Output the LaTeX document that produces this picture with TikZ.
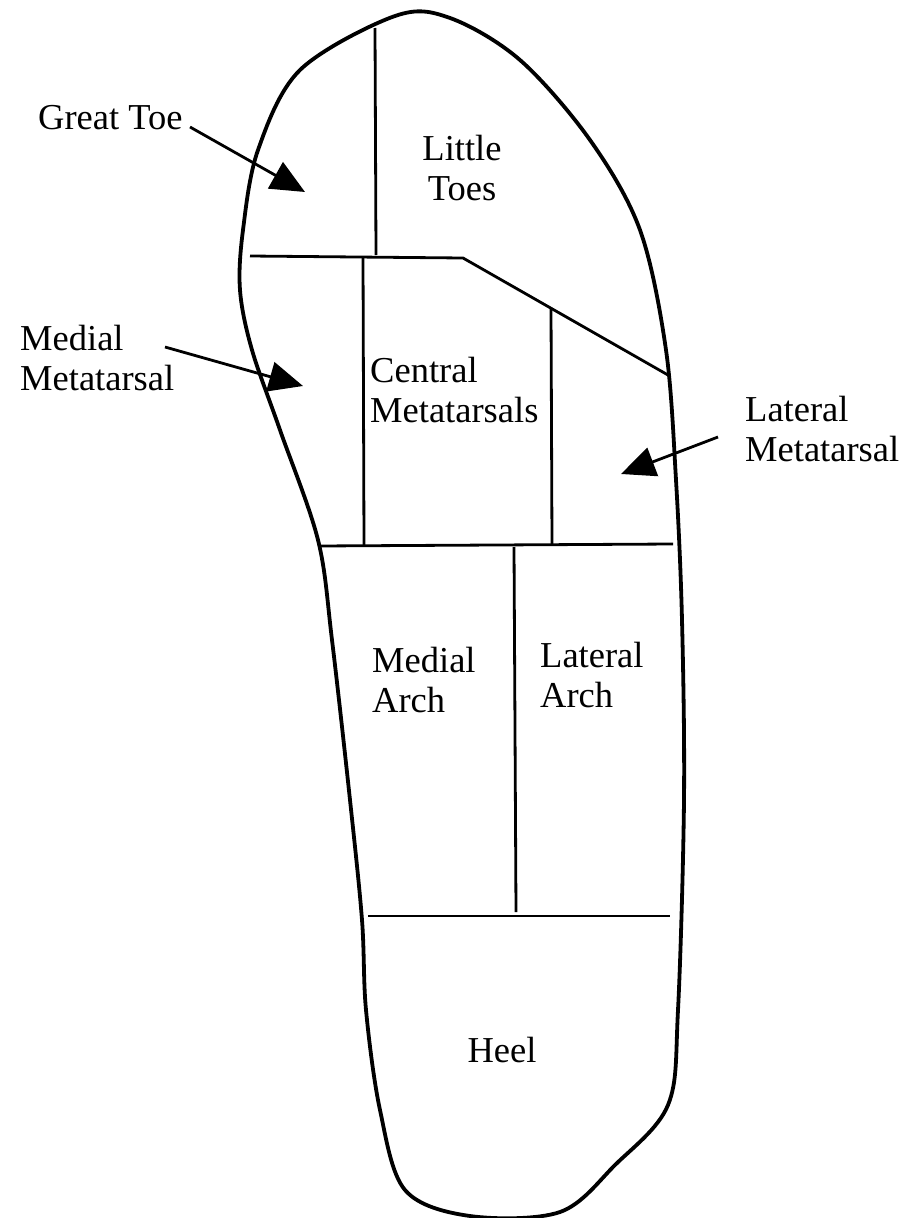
\documentclass[tikz,border=0pt]{standalone}
\usepackage{fontspec}
\setmainfont{Liberation Serif}
\usetikzlibrary{arrows.meta}
\tikzset{
  outline/.style={line width=3.8pt, line join=round},
  divider/.style={line width=2.8pt},
  region/.style={font=\fontsize{36.5}{40}\selectfont, align=left, inner sep=0pt},
  pointer/.style={line width=2.8pt, -{Triangle[length=34pt,width=30pt]}}
}
\begin{document}
\begin{tikzpicture}[x=1pt,y=-1pt]
		\useasboundingbox (0,0) rectangle (919,1218);
		% foot outline
		\draw[outline] plot[smooth cycle, tension=0.55] coordinates {
			(395,16) (300,70) (258,150) (243,230) (240,290) (252,350)
			(280,430) (318,540) (332,640) (350,800) (362,920) (366,1010)
			(380,1110) (405,1190) (470,1216) (560,1212) (615,1165)
			(668,1105) (678,1010) (684,800) (682,620) (676,480) (666,350)
			(640,230) (590,140) (520,60) (450,18)};
		% dividing lines
		\draw[divider] (375,28) -- (376,255);
		\draw[divider] (250,256) -- (463,258) -- (668,375);
		\draw[divider] (363,258) -- (364,545);
		\draw[divider] (551,308) -- (552,544);
		\draw[divider] (318,546) -- (673,544);
		\draw[divider] (514,547) -- (516,912);
		\draw[divider] (368,916) -- (670,916);
		% region labels
		\node[region, anchor=west] (greattoe) at (38,118) {Great Toe};
		\node[region, align=center] (littletoes) at (462,168) {Little\\Toes};
		\node[region, anchor=west] (medialmeta) at (20,358) {Medial\\Metatarsal};
		\node[region, anchor=west] (centralmeta) at (370,390) {Central\\Metatarsals};
		\node[region, anchor=west] (lateralmeta) at (745,429) {Lateral\\Metatarsal};
		\node[region, anchor=west] (medialarch) at (372,680) {Medial\\Arch};
		\node[region, anchor=west] (lateralarch) at (540,675) {Lateral\\Arch};
		\node[region] (heel) at (502,1050) {Heel};
		% pointers
		\coordinate (greattoe tip) at (305,192);
		\coordinate (medialmeta tip) at (303,386);
		\coordinate (lateralmeta tip) at (621,474);
		\draw[pointer] (190,127) -- (greattoe tip);
		\draw[pointer] (165,347) -- (medialmeta tip);
		\draw[pointer] (718,437) -- (lateralmeta tip);
\end{tikzpicture}
\end{document}
